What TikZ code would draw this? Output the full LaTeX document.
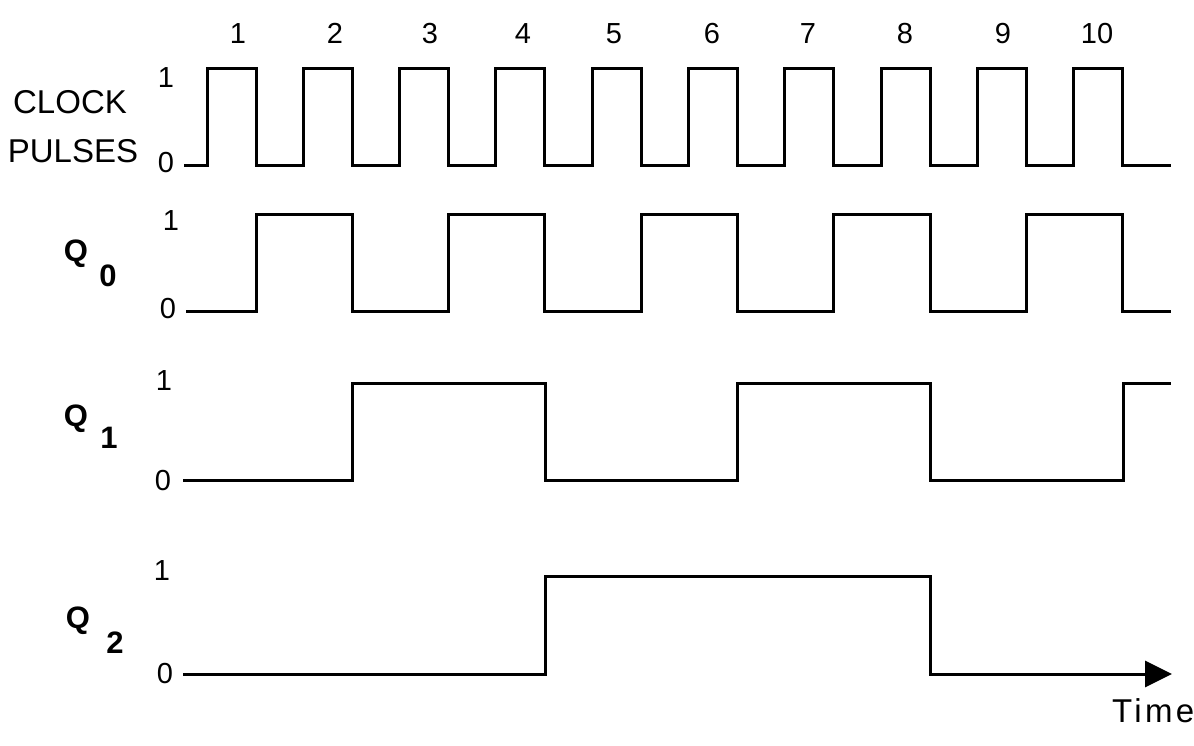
\documentclass[tikz,border=0pt]{standalone}
\usepackage{fontspec}
\setmainfont{Liberation Sans}
\newfontfamily\spacedfont[LetterSpace=10]{Liberation Sans}
\usetikzlibrary{arrows.meta}

\begin{document}
\begin{tikzpicture}[x=1pt, y=-1pt,
    wave/.style = {line width=3pt, line join=miter},
    lvl/.style = {anchor=base, inner sep=0pt,
      font=\fontsize{29}{29}\selectfont},
    signame/.style = {anchor=base, inner sep=0pt,
      font=\fontsize{33}{33}\selectfont},
    qname/.style = {anchor=base, inner sep=0pt,
      font=\fontsize{31}{31}\selectfont\bfseries}]
  \useasboundingbox (0,0) rectangle (1194,745);

  % clock pulses
  \draw[wave] (184,165)
    \foreach \k in {0,...,9} {
      -- ({207+96.3*\k},165) -- ({207+96.3*\k},68)
      -- ({256+96.3*\k},68) -- ({256+96.3*\k},165) }
    -- (1171,165);
  \foreach \x/\n in {238/1,335/2,430/3,523/4,614/5,712/6,808/7,905/8,1003/9,1097/10}
    \node[lvl] (pulse\n) at (\x,43) {\n};

  % Q0
  \draw[wave] (186,311)
    \foreach \k in {0,...,4} {
      -- ({256+192.6*\k},311) -- ({256+192.6*\k},214)
      -- ({352.3+192.6*\k},214) -- ({352.3+192.6*\k},311) }
    -- (1171,311);

  % Q1
  \draw[wave] (183,480) -- (352,480) -- (352,383) -- (545,383) -- (545,480)
    -- (737,480) -- (737,383) -- (930,383) -- (930,480) -- (1123,480)
    -- (1123,383) -- (1171,383);

  % Q2 and time axis
  \draw[wave, -{Triangle[length=27pt,width=26pt]}] (183,674) -- (545,674)
    -- (545,576) -- (930,576) -- (930,674) -- (1172,674);

  % levels
  \node[lvl] (c1) at (166,87) {1};
  \node[lvl] (c0) at (166,172) {0};
  \node[lvl] (a1) at (171,230) {1};
  \node[lvl] (a0) at (168,318) {0};
  \node[lvl] (b1) at (164,390) {1};
  \node[lvl] (b0) at (163,490) {0};
  \node[lvl] (d1) at (162,580) {1};
  \node[lvl] (d0) at (165,683) {0};

  % signal names
  \node[signame] (clock) at (70,113) {CLOCK};
  \node[signame] (pulses) at (73,162) {PULSES};
  \node[qname] (q0) at (76,261) {Q};
  \node[qname] (q0sub) at (108,286) {0};
  \node[qname] (q1) at (76,426) {Q};
  \node[qname] (q1sub) at (109,448) {1};
  \node[qname] (q2) at (78,628) {Q};
  \node[qname] (q2sub) at (115,653) {2};
  \node[anchor=base west, inner sep=0pt,
    font=\fontsize{33}{33}\spacedfont] (time) at (1112,722) {Time};
\end{tikzpicture}
\end{document}
